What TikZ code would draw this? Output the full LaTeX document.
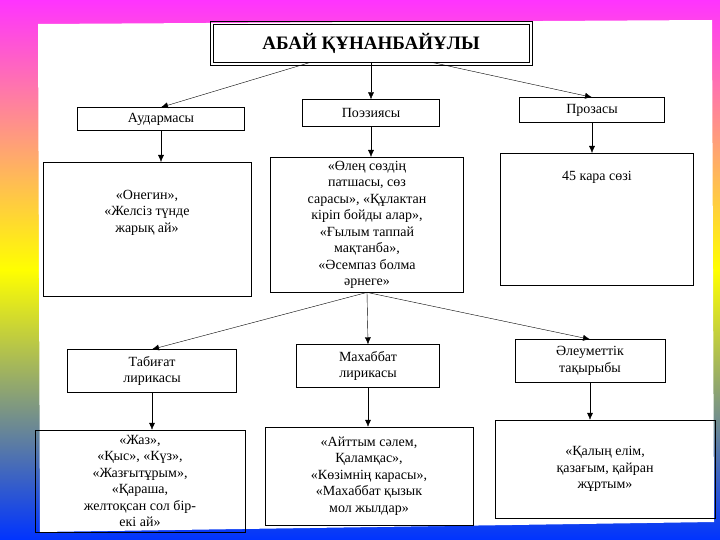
\documentclass[tikz,border=0pt]{standalone}
\usepackage{fontspec}
\setmainfont{Liberation Serif}
\usepackage{tikz}
\usetikzlibrary{arrows.meta,positioning}

\begin{document}
\begin{tikzpicture}[
    x=1pt, y=-1pt,
    node distance=4pt,
    box/.style={rectangle, draw, thin, align=center, inner sep=2pt,
        font=\fontsize{14}{16.5}\selectfont},
    txt/.style={align=center, inner sep=0pt, font=\fontsize{14}{16.5}\selectfont},
    link/.style={-{Latex[length=7pt,width=6pt]}, thin}
]
    % Frame
    \useasboundingbox (0,0) rectangle (720,540);
    \shade[top color=magenta!80, bottom color=blue!80!cyan, middle color=yellow] (0,0) rectangle (720,540);
    \fill[white] (38,24) -- (712,20) -- (714,522) -- (40,532) -- cycle;

    % Title
    \node[box, font=\fontsize{19}{23}\selectfont\bfseries, minimum width=316, minimum height=38] (title) at (371,43) {АБАЙ ҚҰНАНБАЙҰЛЫ};
    \draw[thin] ([shift={(-3,3)}]title.south west) rectangle ([shift={(3,-3)}]title.north east);

    % Sections
    \node[box, minimum width=167, minimum height=23] (trans) at (161,119) {Аудармасы};
    \node[box, minimum width=137, minimum height=27] (poet) at (371,113) {Поэзиясы};
    \node[box, minimum width=145, minimum height=25] (prose) at (592,110) {Прозасы};

    % Works
    \node[box, minimum width=208, minimum height=134, anchor=north] (transw) at (147,162) {};
    \node[txt, below=28pt of transw.north] (transwt) {«Онегин»,\\«Желсіз түнде\\жарық ай»};
    \node[box, minimum width=193, minimum height=135, anchor=north] (poetw) at (367,157) {};
    \node[txt, below=4pt of poetw.north] (poetwt)
        {«Өлең сөздің\\патшасы, сөз\\сарасы», «Құлактан\\кіріп бойды алар»,\\«Ғылым таппай\\мақтанба»,\\«Әсемпаз болма\\әрнеге»};
    \node[box, minimum width=193, minimum height=132, anchor=north] (prosew) at (597,153) {};
    \node[txt, below=18pt of prosew.north] (prosewt) {45 кара сөзі};

    % Themes
    \node[box, minimum width=169, minimum height=43] (nature) at (152,371) {Табиғат\\лирикасы};
    \node[box, minimum width=143, minimum height=43] (love) at (368,366) {Махаббат\\лирикасы};
    \node[box, minimum width=150, minimum height=43] (social) at (590,361) {Әлеуметтік\\тақырыбы};

    % Theme works
    \node[box, minimum width=210, minimum height=102] (naturew) at (140,481)
        {«Жаз»,\\«Қыс», «Күз»,\\«Жазғытұрым»,\\«Қараша,\\желтоқсан сол бір-\\екі ай»};
    \node[box, minimum width=208, minimum height=98] (lovew) at (369,476)
        {«Айттым сәлем,\\Қаламқас»,\\«Көзімнің карасы»,\\«Махаббат қызык\\мол жылдар»};
    \node[box, minimum width=220, minimum height=98] (socialw) at (605,469)
        {«Қалың елім,\\қазағым, қайран\\жұртым»};

    % Links
    \draw[link] (title.south) ++(-60,0) -- (trans.north);
    \draw[link] (title.south) -- (poet.north);
    \draw[link] (title.south) ++(60,0) -- (prose.north);
    \draw[link] (trans) -- (trans |- transw.north);
    \draw[link] (poet) -- (poet |- poetw.north);
    \draw[link] (prose) -- (prose |- prosew.north);
    \draw[link] (poetw.south) -- (nature.north);
    \draw[link] (poetw.south) -- (love.north);
    \draw[link] (poetw.south) -- (social.north);
    \draw[link] (nature) -- (nature |- naturew.north);
    \draw[link] (love) -- (love |- lovew.north);
    \draw[link] (social) -- (social |- socialw.north);
\end{tikzpicture}
\end{document}
